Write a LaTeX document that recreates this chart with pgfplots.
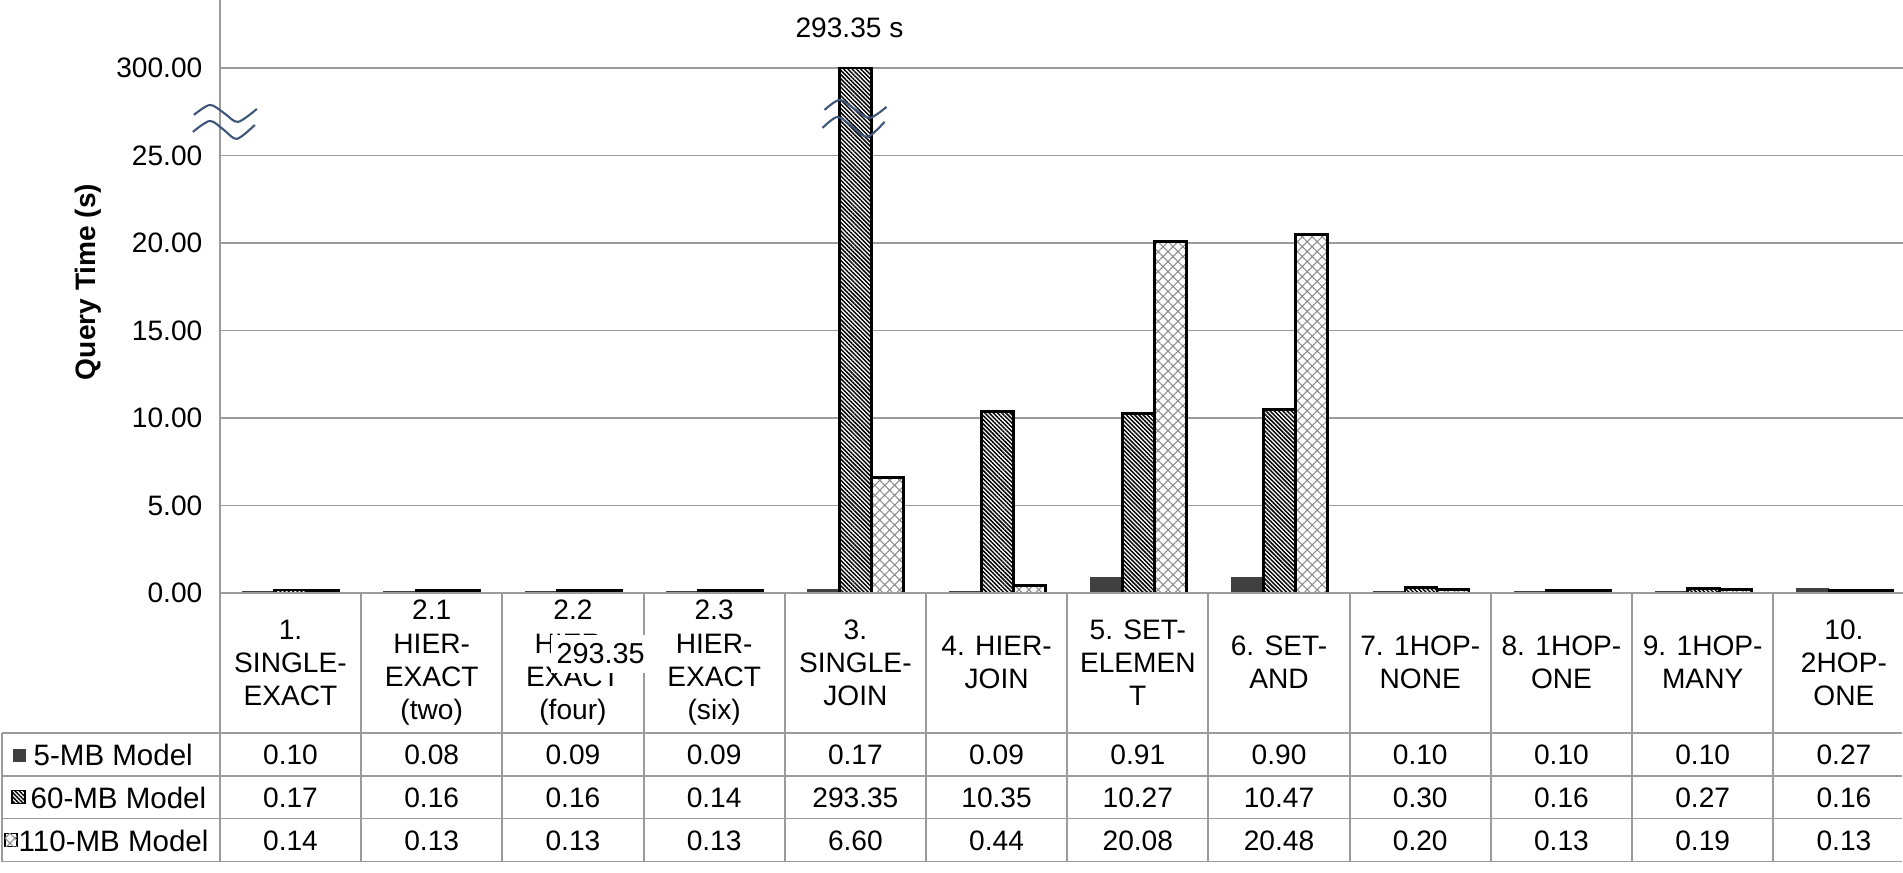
\documentclass[border=0pt]{standalone}
\usepackage{fontspec}
\setmainfont{Liberation Sans}
\usepackage{pgfplots}
\pgfplotsset{compat=1.18}
\usepackage{pgfplotstable}
\usetikzlibrary{patterns.meta}

\definecolor{gridgray}{RGB}{155,155,155}
\definecolor{breakblue}{RGB}{62,86,122}
\definecolor{darkbar}{RGB}{64,64,64}

\tikzset{
  stripes/.style={fill=white, postaction={pattern={Lines[angle=-45,distance=0.85pt,line width=0.42pt]}}},
  cross/.style={fill=white, postaction={pattern={Hatch[angle=45,distance=2pt,line width=0.3pt]}, pattern color=black!45}},
  cell/.style={font=\fontsize{8}{9.4}\selectfont},
}

% query times (s): 5-MB, 60-MB, 110-MB model
\pgfplotstableread{
x a b c
0 0.10 0.17 0.14
1 0.08 0.16 0.13
2 0.09 0.16 0.13
3 0.09 0.14 0.13
4 0.17 293.35 6.60
5 0.09 10.35 0.44
6 0.91 10.27 20.08
7 0.90 10.47 20.48
8 0.10 0.30 0.20
9 0.10 0.16 0.13
10 0.10 0.27 0.19
11 0.27 0.16 0.13
}\data

\begin{document}
\begin{tikzpicture}
\path[use as bounding box] (0,0) rectangle (19.03cm,-8.73cm);
\clip (0,0) rectangle (19.03cm,-8.73cm);

\begin{axis}[
  at={(2.2cm,-5.93cm)}, anchor=south west,
  scale only axis, width=16.83cm, height=5.93cm,
  xmin=-0.5, xmax=11.411, ymin=0, ymax=33.886,
  axis line style={draw=none},
  xtick=\empty,
  ytick={0,5,10,15,20,25,30},
  yticklabels={0.00,5.00,10.00,15.00,20.00,25.00,300.00},
  yticklabel style={font=\fontsize{8}{10}\selectfont, inner sep=0pt, xshift=-1.7mm},
  major tick length=0pt,
  ymajorgrids,
  major grid style={gridgray, line width=0.55pt},
  ybar=0pt, bar width=3.2mm,
  clip=true,
]
\addplot[draw=darkbar, fill=darkbar, line width=0.3pt] table[x=x,y=a]{\data};
\addplot[draw=black, line width=0.8pt, stripes, y filter/.expression={min(y,30)}] table[x=x,y=b]{\data};
\addplot[draw=black, line width=0.8pt, cross] table[x=x,y=c]{\data};
\end{axis}

\begin{scope}[x=0.01cm, y=-0.01cm]
  % axis line and table grid
  \draw[gridgray, line width=0.55pt] (220,0) -- (220,862);
  \foreach \k in {1,...,12}
    \draw[gridgray, line width=0.55pt] ({220+141.3*\k},593) -- ({220+141.3*\k},862);
  \draw[gridgray, line width=0.55pt] (2,733) -- (2,862);
  \draw[gridgray, line width=0.55pt] (220,593) -- (1903,593);
  \foreach \yy in {733,776,819,862}
    \draw[gridgray, line width=0.55pt] (2,\yy) -- (1903,\yy);

  % category headers
  \foreach \k/\lab in {0/{1.\\SINGLE-\\EXACT},
                       1/{2.1\\HIER-\\EXACT\\(two)},
                       2/{2.2\\HIER-\\EXACT\\(four)},
                       3/{2.3\\HIER-\\EXACT\\(six)},
                       4/{3.\\SINGLE-\\JOIN},
                       5/{4. HIER-\\JOIN},
                       6/{5. SET-\\ELEMEN\\T},
                       7/{6. SET-\\AND},
                       8/{7. 1HOP-\\NONE},
                       9/{8. 1HOP-\\ONE},
                       10/{9. 1HOP-\\MANY},
                       11/{10.\\2HOP-\\ONE}}
    \node[align=center, inner sep=0pt, cell] at ({220+141.3*(\k+0.5)},663) {\lab};

  % values
  \foreach \k in {0,...,11}{
    \pgfplotstablegetelem{\k}{a}\of\data
    \node[cell] at ({220+141.3*(\k+0.5)},755) {\pgfplotsretval};
    \pgfplotstablegetelem{\k}{b}\of\data
    \node[cell] at ({220+141.3*(\k+0.5)},798) {\pgfplotsretval};
    \pgfplotstablegetelem{\k}{c}\of\data
    \node[cell] at ({220+141.3*(\k+0.5)},841) {\pgfplotsretval};
  }

  % legend keys
  \fill[darkbar] (13,749) rectangle (26,762);
  \node[anchor=west, inner sep=0pt, font=\fontsize{8.4}{10}\selectfont] at (33,755) {5-MB Model};
  \draw[black, line width=0.5pt, stripes] (12,791) rectangle (25,804);
  \node[anchor=west, inner sep=0pt, font=\fontsize{8.4}{10}\selectfont] at (30,798) {60-MB Model};
  \draw[black, line width=0.5pt, cross] (5,834) rectangle (17,847);
  \node[anchor=west, inner sep=0pt, font=\fontsize{8.4}{10}\selectfont] at (18,841) {110-MB Model};

  % misplaced data label in the original
  \node[fill=white, inner xsep=1.5pt, inner ysep=2.5pt, font=\fontsize{8.2}{9}\selectfont] at (601,654) {293.35};

  % annotations
  \node[font=\fontsize{8}{9}\selectfont] at (850,28) {293.35 s};
  \node[rotate=90, font=\fontsize{8}{10}\selectfont\bfseries] at (88,282) {Query Time (s)};

  % axis break marks
  \draw[breakblue, line width=0.6pt] plot[smooth] coordinates {(194,115) (210,105) (224,113) (238,122) (257,109)};
  \draw[breakblue, line width=0.6pt] plot[smooth] coordinates {(193,132) (210,121) (224,130) (237,139) (255,125)};
  \draw[breakblue, line width=0.6pt] plot[smooth] coordinates {(825,110) (840,100) (855,109) (870,118) (887,107)};
  \draw[breakblue, line width=0.6pt] plot[smooth] coordinates {(823,128) (838,117) (853,127) (868,137) (885,122)};
\end{scope}
\end{tikzpicture}
\end{document}
